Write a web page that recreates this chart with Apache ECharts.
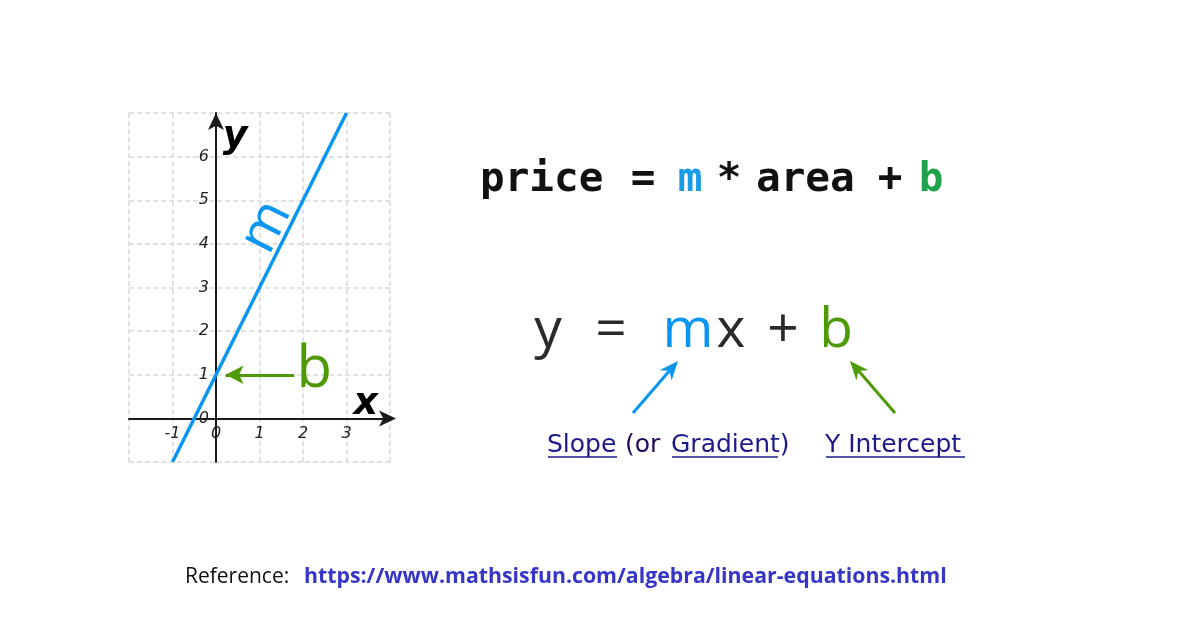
<!DOCTYPE html>
<html>
<head>
<meta charset="utf-8">
<script src="https://cdn.jsdelivr.net/npm/echarts@6/dist/echarts.min.js"></script>
<style>
html,body{margin:0;padding:0;background:#fff;}
#c{width:1200px;height:642px;}
</style>
</head>
<body>
<div id="c"></div>
<script>
// ---- data ----
var lineX = [-1, 0, 1, 2, 3];
var lineY = [-1, 1, 3, 5, 7];
var xTickLabels = [-1, 0, 1, 2, 3];
var yTickLabels = [0, 1, 2, 3, 4, 5, 6];
var slopeM = 2;
var interceptB = 1;

var BLUE = '#0a96f0';
var GREEN = '#4d9a06';
var GREEN2 = '#1fa34a';
var LINK = '#1c1a8a';

var chart = echarts.init(document.getElementById('c'), null, {renderer: 'canvas'});

function arrowGraphic(x1, y1, x2, y2, color, w) {
  var ang = Math.atan2(y2 - y1, x2 - x1);
  var L = 19, H = 8, N = 13;
  var ux = Math.cos(ang), uy = Math.sin(ang);
  var px = -uy, py = ux;
  var bx = x2 - ux * L, by = y2 - uy * L;
  var nx = x2 - ux * N, ny = y2 - uy * N;
  return [
    {type: 'line', shape: {x1: x1, y1: y1, x2: nx, y2: ny}, style: {stroke: color, lineWidth: w}},
    {type: 'polygon', shape: {points: [[x2, y2], [bx + px * H, by + py * H], [nx, ny], [bx - px * H, by - py * H]]}, style: {fill: color}}
  ];
}

function txt(t, x, y, font, color, align) {
  return {type: 'text', x: x, y: y, style: {text: t, font: font, fill: color, textAlign: align || 'center', textVerticalAlign: 'middle'}};
}

var monoFont = 'bold 41px "DejaVu Sans Mono"';
var eqFont = '55px "Open Sans"';
var linkFont = '25px "DejaVu Sans"';

var graphics = [
  txt('price', 480, 180, monoFont, '#111', 'left'),
  txt('=', 643, 180, monoFont, '#111'),
  txt('m', 690, 180, monoFont, '#1a9be6'),
  txt('*', 729, 180, monoFont, '#111'),
  txt('area', 756, 180, monoFont, '#111', 'left'),
  txt('+', 890, 180, monoFont, '#111'),
  txt('b', 931, 180, monoFont, GREEN2),

  txt('y', 548, 331, eqFont, '#2b2b2b'),
  txt('=', 611, 331, eqFont, '#2b2b2b'),
  txt('m', 688, 331, eqFont, '#0a96f0'),
  txt('x', 731, 331, eqFont, '#2b2b2b'),
  txt('+', 783, 331, eqFont, '#2b2b2b'),
  txt('b', 836, 331, eqFont, GREEN),

  txt('Slope', 547, 445, linkFont, LINK, 'left'),
  txt('(or', 625, 445, linkFont, '#24085c', 'left'),
  txt('Gradient)', 671, 445, linkFont, LINK, 'left'),
  txt('Y Intercept', 825, 445, linkFont, LINK, 'left'),
  {type: 'line', shape: {x1: 548, y1: 457, x2: 617, y2: 457}, style: {stroke: LINK, lineWidth: 1.5}},
  {type: 'line', shape: {x1: 672, y1: 457, x2: 778, y2: 457}, style: {stroke: LINK, lineWidth: 1.5}},
  {type: 'line', shape: {x1: 826, y1: 457, x2: 965, y2: 457}, style: {stroke: LINK, lineWidth: 1.5}},

  txt('Reference:', 185, 577, '21px "Open Sans"', '#111', 'left'),
  txt('https://www.mathsisfun.com/algebra/linear-equations.html', 304, 577, 'bold 21.3px "Open Sans"', '#3535c8', 'left')
];
graphics = graphics.concat(arrowGraphic(633, 413, 678, 361, BLUE, 3));
graphics = graphics.concat(arrowGraphic(895, 413, 850, 361, GREEN, 3));

var labelFont = {fontFamily: 'DejaVu Sans', fontStyle: 'italic', fontSize: 16, color: '#222'};

function annot(v, text, extra) {
  return {
    value: v,
    label: Object.assign({show: true, position: 'inside', formatter: text, opacity: 1, textBorderWidth: 0}, extra)
  };
}

var option = {
  animation: false,
  backgroundColor: '#fff',
  grid: {left: 129, top: 113, width: 261, height: 349, containLabel: false},
  xAxis: {
    type: 'value', min: -2, max: 4, interval: 1,
    axisLine: {show: true, onZero: true, lineStyle: {color: '#1a1a1a', width: 2}, symbol: ['none', 'arrow'], symbolSize: [12, 17], symbolOffset: [0, 6]},
    axisTick: {show: false},
    axisLabel: Object.assign({margin: -36, formatter: function (v) { return xTickLabels.indexOf(v) >= 0 ? String(v) : ''; }}, labelFont),
    splitLine: {show: true, lineStyle: {color: '#d9d9d9', width: 1.5, type: [5, 3]}}
  },
  yAxis: {
    type: 'value', min: -1, max: 7, interval: 1,
    axisLine: {show: true, onZero: true, lineStyle: {color: '#1a1a1a', width: 2}, symbol: ['none', 'arrow'], symbolSize: [12, 17], symbolOffset: [0, 0]},
    axisTick: {show: false},
    axisLabel: Object.assign({margin: -80, formatter: function (v) { return yTickLabels.indexOf(v) >= 0 ? String(v) : ''; }}, labelFont),
    splitLine: {show: true, lineStyle: {color: '#d9d9d9', width: 1.5, type: [5, 3]}}
  },
  series: [
    {
      type: 'line',
      data: lineX.map(function (x, i) { return [x, lineY[i]]; }),
      showSymbol: false,
      lineStyle: {color: BLUE, width: 3.5},
      z: 5,
      markLine: {
        silent: true,
        symbol: ['none', 'arrow'],
        symbolSize: [14, 18],
        label: {show: false},
        lineStyle: {color: GREEN, width: 3, type: 'solid'},
        data: [[{coord: [1.8, interceptB]}, {coord: [0.22, interceptB]}]]
      }
    },
    {
      type: 'scatter',
      symbolSize: 1,
      itemStyle: {color: 'rgba(0,0,0,0)', opacity: 1},
      silent: true,
      z: 6,
      data: [
        annot([1.16, 4.39], 'm', {rotate: Math.atan(slopeM) * 180 / Math.PI, fontFamily: 'Open Sans', fontSize: 54, color: BLUE}),
        annot([2.26, 1.09], 'b', {fontFamily: 'Open Sans', fontSize: 58, color: GREEN}),
        annot([0.44, 6.45], 'y', {fontFamily: 'DejaVu Sans', fontStyle: 'italic', fontWeight: 'bold', fontSize: 38, color: '#000'}),
        annot([3.44, 0.33], 'x', {fontFamily: 'DejaVu Sans', fontStyle: 'italic', fontWeight: 'bold', fontSize: 38, color: '#000'})
      ]
    }
  ],
  graphic: graphics
};
chart.setOption(option);
</script>
</body>
</html>
